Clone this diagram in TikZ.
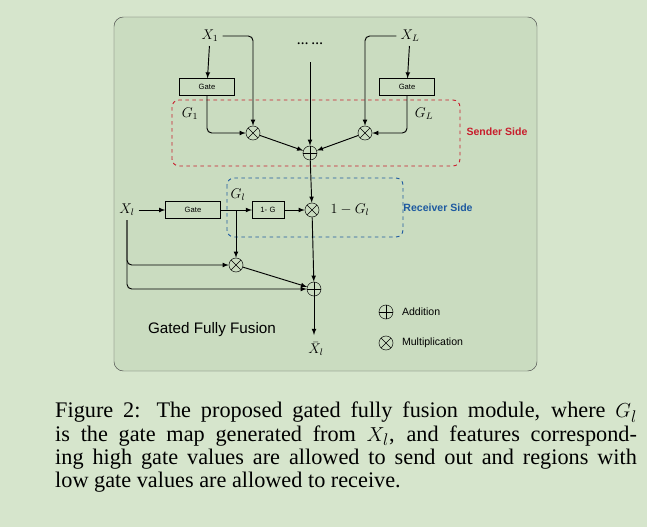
\documentclass[tikz,border=0pt]{standalone}
\usepackage{fontspec}
\setmainfont{Liberation Serif}
\newfontfamily\diagsans{Liberation Sans}
\usetikzlibrary{positioning, shapes, calc}
\definecolor{pagebg}{RGB}{214,229,204}
\definecolor{panelbg}{RGB}{202,220,192}
\definecolor{senderred}{RGB}{200,30,45}
\definecolor{receiverblue}{RGB}{30,90,160}

\begin{document}
\begin{tikzpicture}[x=0.03cm, y=-0.03cm,
                    gatebox/.style={rectangle, draw, fill=panelbg, inner sep=0pt, align=center, minimum height=0.5cm, font=\diagsans\fontsize{6.5}{7}\selectfont},
                    mult/.style={circle, draw, minimum size=12pt, inner sep=0pt, path picture={\draw ($(path picture bounding box.north west)!0.15!(path picture bounding box.south east)$) -- ($(path picture bounding box.north west)!0.85!(path picture bounding box.south east)$) ($(path picture bounding box.north east)!0.15!(path picture bounding box.south west)$) -- ($(path picture bounding box.north east)!0.85!(path picture bounding box.south west)$);}},
                    add/.style={circle, draw, minimum size=12pt, inner sep=0pt, path picture={\draw (path picture bounding box.north) -- (path picture bounding box.south) (path picture bounding box.west) -- (path picture bounding box.east);}},
                    arr/.style={->, >=latex, thick},
                    lbl/.style={font=\large}]

    % Background and panel
    \fill[pagebg] (0,0) rectangle (647,527);
    \useasboundingbox (0,0) rectangle (647,527);
    \draw[fill=panelbg, draw=black!70, rounded corners=8pt] (114,17) rectangle (537,371);

    % Dashed regions
    \draw[senderred, dashed, thick, rounded corners=6pt] (172,100) rectangle (460,166);
    \node[senderred, font=\diagsans\bfseries\small] (sender) at (497,132) {Sender Side};
    \draw[receiverblue, dashed, thick, rounded corners=6pt] (227,178) rectangle (403,237);
    \node[receiverblue, font=\diagsans\bfseries\small] (receiver) at (438,208) {Receiver Side};

    % Sender nodes
    \node[lbl] (x1) at (210,36) {$X_1$};
    \node[lbl] (xL) at (410,36) {$X_L$};
    \node[font=\bfseries] (dots) at (310,44) {\dots\ \dots};
    \coordinate (mid) at (310,62);
    \node[gatebox, text width=1.65cm] (gate1) at (207,87) {Gate};
    \node[gatebox, text width=1.65cm] (gateL) at (407,87) {Gate};
    \node[mult] (m1) at (253,133) {};
    \node[mult] (mL) at (365,133) {};
    \node[add] (sum) at (310,153) {};
    \node[lbl] (g1) at (190,114) {$G_1$};
    \node[lbl] (gL) at (424,114) {$G_L$};

    % Receiver nodes
    \node[lbl] (xl) at (127,210) {$X_l$};
    \node[gatebox, text width=1.65cm] (gatel) at (193,210) {Gate};
    \node[gatebox, text width=0.95cm] (oneminus) at (268,210) {1- G};
    \node[mult] (ml) at (312,210) {};
    \node[lbl] (oneg) at (350,210) {$1-G_l$};
    \node[lbl] (gl) at (238,195) {$G_l$};
    \coordinate (split) at (236,210);
    \node[mult] (mm) at (236,265) {};
    \node[add] (out) at (314,289) {};
    \node[lbl, inner sep=1pt] (xbar) at (316,349) {$\bar{X}_l$};
    \coordinate (outend) at (314,335);

    % Legend and title
    \node[font=\diagsans\fontsize{13}{15}\selectfont] (title) at (212,330) {Gated Fully Fusion};
    \node[add] (legadd) at (386,312) {};
    \node[right=4pt of legadd, font=\diagsans\small] (legaddtxt) {Addition};
    \node[mult] (legmult) at (386,343) {};
    \node[right=4pt of legmult, font=\diagsans\small] (legmulttxt) {Multiplication};

    % Paths
    \draw[arr] (x1) -- (gate1);
    \draw[arr] (xL) -- (gateL);
    \draw[arr, rounded corners=4pt] (x1.east) -| (m1.north);
    \draw[arr, rounded corners=4pt] (xL.west) -| (mL.north);
    \draw[arr, rounded corners=4pt] (gate1.south) |- (m1.west);
    \draw[arr, rounded corners=4pt] (gateL.south) |- (mL.east);
    \draw[arr] (m1) -- (sum);
    \draw[arr] (mL) -- (sum);
    \draw[arr] (mid) -- (sum);
    \draw[arr] (sum) -- (ml);
    \draw[arr] (xl) -- (gatel);
    \draw[arr] (gatel) -- (oneminus);
    \draw[arr] (oneminus) -- (ml);
    \draw[arr] (split) -- (mm);
    \draw[arr, rounded corners=4pt] (xl.south) |- (mm.west);
    \draw[arr, rounded corners=4pt] (xl.south) |- (out.west);
    \draw[arr] (mm) -- (out);
    \draw[arr] (ml) -- (out);
    \draw[arr] (out) -- (outend);

    % Caption
    \node[anchor=north west, text width=17.45cm, align=justify, inner sep=0pt,
          font=\fontsize{19}{19.8}\selectfont] (caption) at (55,402)
      {Figure 2: The proposed gated fully fusion module, where $G_l$\linebreak
       is the gate map generated from $X_l$, and features correspond-\linebreak
       ing high gate values are allowed to send out and regions with\linebreak
       low gate values are allowed to receive.};
\end{tikzpicture}
\end{document}
